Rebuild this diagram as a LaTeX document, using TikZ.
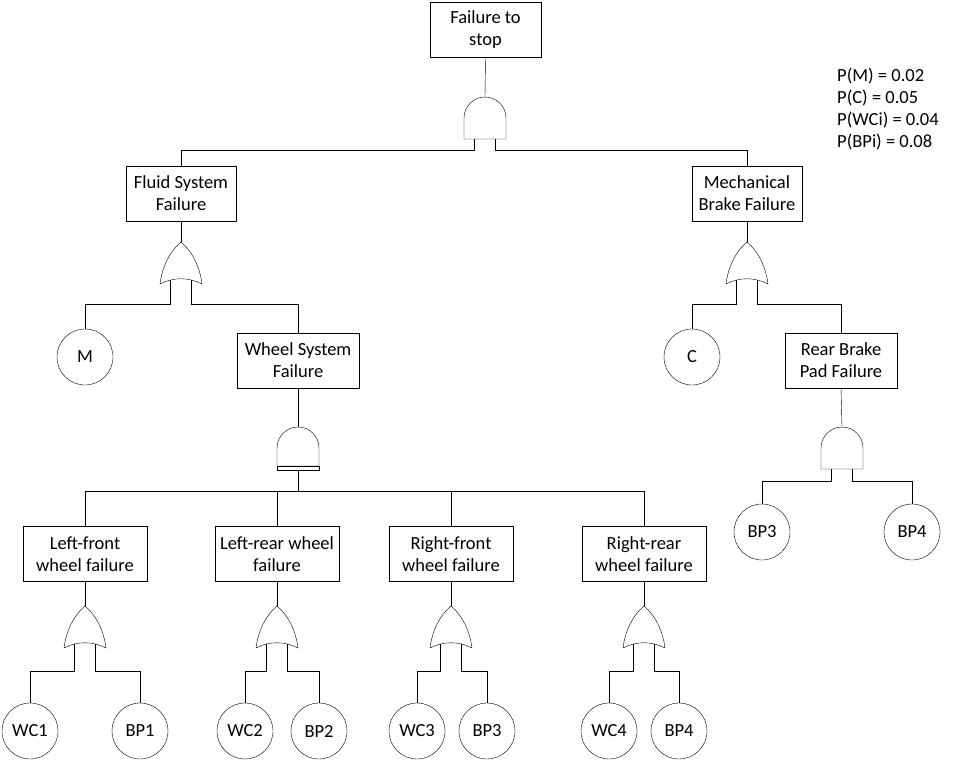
\documentclass[tikz,border=0pt]{standalone}
\usepackage{fontspec}
\setmainfont{Carlito}
\usepackage{tikz}

\tikzset{
  ev/.style={draw, fill=white, align=center, inner sep=2pt, minimum height=55pt, font=\fontsize{18.5}{22}\selectfont},
  basic/.style={draw, circle, minimum size=56pt, inner sep=0pt, font=\fontsize{18.5}{22}\selectfont},
  andg/.pic={
    \draw (-21,-42) -- (-21,-21) arc (180:0:21) -- (21,-42) -- cycle;
    \coordinate (-t) at (0,0);
    \coordinate (-l) at (-10.5,-42);
    \coordinate (-r) at (10.5,-42);
  },
  andgg/.pic={
    \draw (-21,-39) -- (-21,-21) arc (180:0:21) -- (21,-39) -- cycle;
    \draw (-21,-39) rectangle (21,-43);
    \coordinate (-t) at (0,0);
    \coordinate (-b) at (0,-43);
  },
  org/.pic={
    \draw (0,0) .. controls (-12,-10) and (-19,-26) .. (-21,-42)
      .. controls (-8,-35) and (8,-35) .. (21,-42)
      .. controls (19,-26) and (12,-10) .. (0,0) -- cycle;
    \coordinate (-t) at (0,0);
    \coordinate (-l) at (-10.5,-38);
    \coordinate (-r) at (10.5,-38);
  }
}

\begin{document}
\begin{tikzpicture}[x=1pt,y=1pt,yscale=-1]
\useasboundingbox (0,0) rectangle (975,763);

% top event
\node[ev, minimum width=111pt] (top) at (485.5,29.5) {Failure to\\stop};
\pic (gtop) at (485,97) {andg};
\draw (top.south) -- (gtop-t);

% second level
\node[ev, minimum width=110pt] (fluid) at (181,193.5) {Fluid System\\Failure};
\node[ev, minimum width=110pt] (mech) at (747,193.5) {Mechanical\\Brake Failure};
\draw (gtop-l) -- ++(0,11) -| (fluid.north);
\draw (gtop-r) -- ++(0,11) -| (mech.north);

% fluid system
\pic (gfl) at (181,242) {org};
\draw (fluid.south) -- (gfl-t);
\node[basic] (m) at (85,357) {M};
\node[ev, minimum width=122pt] (wheel) at (298,360.5) {Wheel System\\Failure};
\draw (gfl-l) -- (170.5,304) -| (m.north);
\draw (gfl-r) -- (191.5,304) -| (wheel.north);

% mechanical brake
\pic (gme) at (747,242) {org};
\draw (mech.south) -- (gme-t);
\node[basic] (c) at (692,357) {C};
\node[ev, minimum width=112pt] (rear) at (841,360.5) {Rear Brake\\Pad Failure};
\draw (gme-l) -- (736.5,304) -| (c.north);
\draw (gme-r) -- (757.5,304) -| (rear.north);

% rear brake pads
\pic (grb) at (842,427) {andg};
\draw (rear.south) -- (grb-t);
\node[basic] (bpr3) at (762,532) {BP3};
\node[basic] (bpr4) at (912,532) {BP4};
\draw (grb-l) -- (831.5,481) -| (bpr3.north);
\draw (grb-r) -- (852.5,481) -| (bpr4.north);

% wheel system
\pic (gwh) at (298,427) {andgg};
\draw (wheel.south) -- (gwh-t);
\draw (gwh-b) -- (298,491) coordinate (hub);
\foreach \n/\x/\t/\a/\b in {1/85/{Left-front\\wheel failure}/30/140,
                            2/277/{Left-rear wheel\\failure}/245/319,
                            3/451/{Right-front\\wheel failure}/417/487,
                            4/644/{Right-rear\\wheel failure}/609/679}{
  \node[ev, minimum width=124pt] (w\n) at (\x,554) {\t};
  \draw (hub) -| (w\n.north);
  \pic (gw\n) at (\x,606) {org};
  \draw (w\n.south) -- (gw\n-t);
  \node[basic] (wc\n) at (\a,731) {WC\n};
  \node[basic] (bp\n) at (\b,731) {BP\n};
  \draw (gw\n-l) -- ++(0,27) -| (wc\n.north);
  \draw (gw\n-r) -- ++(0,27) -| (bp\n.north);
}

% probabilities
\node[anchor=north west, align=left, inner sep=0pt, font=\fontsize{18.5}{22}\selectfont] (prob) at (837,68)
  {P(M) = 0.02\\P(C) = 0.05\\P(WCi) = 0.04\\P(BPi) = 0.08};
\end{tikzpicture}
\end{document}
